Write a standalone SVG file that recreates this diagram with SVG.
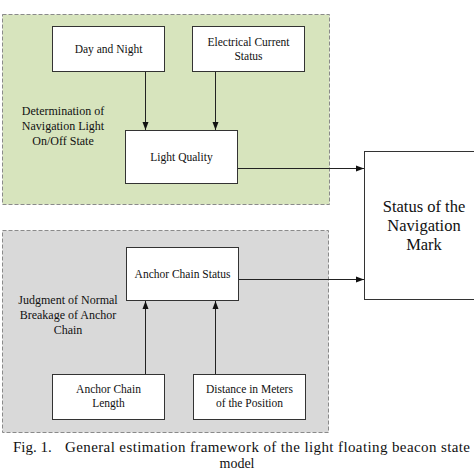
<svg xmlns="http://www.w3.org/2000/svg" width="474" height="472" viewBox="0 0 474 472">
<style>
text{font-family:"Liberation Serif","Times New Roman",serif;fill:#111;text-anchor:middle}
.box{fill:#fff;stroke:#333;stroke-width:1}
.grp{stroke:#8a8a8a;stroke-width:1;stroke-dasharray:4,2}
.lbl{font-size:12px}
.sm{font-size:11.5px}
.cap{font-size:15px;text-anchor:start}
.conn{stroke:#222;stroke-width:1;fill:none;marker-end:url(#ah)}
</style>
<defs>
<marker id="ah" viewBox="0 0 8 8" refX="8" refY="4" markerWidth="8" markerHeight="8" markerUnits="userSpaceOnUse" orient="auto">
<path d="M0,1 L8,4 L0,7 z" fill="#111"/>
</marker>
</defs>
<rect width="474" height="472" fill="#fff"/>
<g id="group-light">
<rect class="grp" x="2.5" y="14.5" width="327" height="190" fill="#d7e4bd"/>
<text class="lbl" x="63" y="115">Determination of</text>
<text class="lbl" x="63" y="130">Navigation Light</text>
<text class="lbl" x="63" y="145">On/Off State</text>
</g>
<g id="group-anchor">
<rect class="grp" x="2.5" y="230.5" width="326" height="202" fill="#d9d9d9"/>
<text class="lbl" x="68" y="304">Judgment of Normal</text>
<text class="lbl" x="68" y="319">Breakage of Anchor</text>
<text class="lbl" x="68" y="334">Chain</text>
</g>
<g id="day-night">
<rect class="box" x="52.5" y="26.5" width="112" height="45"/>
<text class="sm" x="108.5" y="53">Day and Night</text>
</g>
<g id="electrical">
<rect class="box" x="192.5" y="26.5" width="112" height="45"/>
<text class="sm" x="248.5" y="46">Electrical Current</text>
<text class="sm" x="248.5" y="60">Status</text>
</g>
<g id="light-quality">
<rect class="box" x="125.5" y="130.5" width="112" height="53"/>
<text class="sm" x="181.5" y="161">Light Quality</text>
</g>
<g id="anchor-status">
<rect class="box" x="126.5" y="247.5" width="112" height="53"/>
<text class="sm" x="182.5" y="278">Anchor Chain Status</text>
</g>
<g id="chain-length">
<rect class="box" x="52.5" y="374.5" width="112" height="45"/>
<text class="sm" x="108.5" y="393">Anchor Chain</text>
<text class="sm" x="108.5" y="407">Length</text>
</g>
<g id="distance">
<rect class="box" x="193.5" y="374.5" width="112" height="45"/>
<text class="sm" x="249.5" y="393">Distance in Meters</text>
<text class="sm" x="249.5" y="407">of the Position</text>
</g>
<g id="nav-mark">
<rect class="box" x="364.5" y="151.5" width="115" height="148"/>
<text x="424" y="212" font-size="16.5">Status of the</text>
<text x="424" y="231" font-size="16.5">Navigation</text>
<text x="424" y="250" font-size="16.5">Mark</text>
</g>
<g id="connectors">
<line class="conn" x1="145.5" y1="72" x2="145.5" y2="130"/>
<line class="conn" x1="215.5" y1="72" x2="215.5" y2="130"/>
<line class="conn" x1="238" y1="168.5" x2="364" y2="168.5"/>
<line class="conn" x1="145.5" y1="374" x2="145.5" y2="301"/>
<line class="conn" x1="215.5" y1="374" x2="215.5" y2="301"/>
<line class="conn" x1="239" y1="279.5" x2="364" y2="279.5"/>
</g>
<text class="cap" x="13" y="452">Fig. 1.</text>
<text class="cap" x="65" y="452" textLength="405" lengthAdjust="spacing">General estimation framework of the light floating beacon state</text>
<text x="237" y="468" font-size="14">model</text>
</svg>
